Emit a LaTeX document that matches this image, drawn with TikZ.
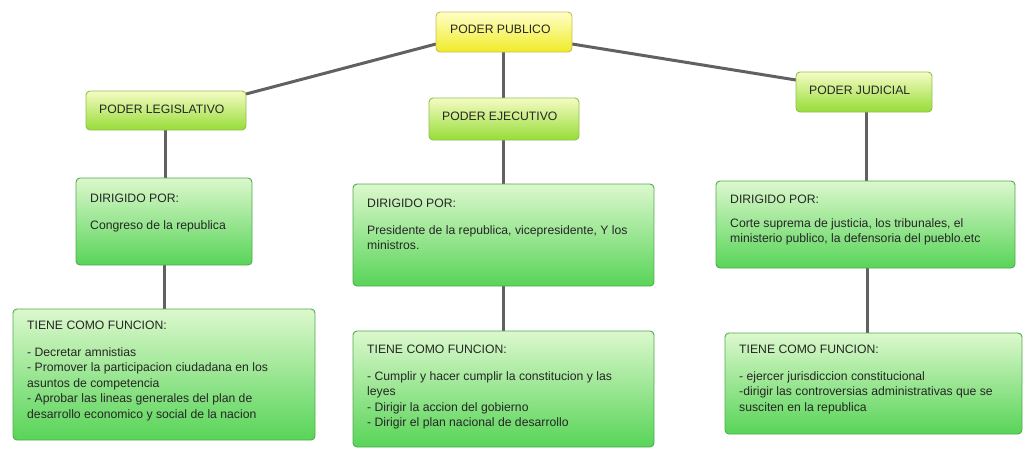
\documentclass[tikz,border=0pt]{standalone}
\usepackage{fontspec}
\setmainfont{Liberation Sans}
\definecolor{gtop}{RGB}{220,248,205}
\definecolor{gbot}{RGB}{88,212,88}
\definecolor{gdraw}{RGB}{80,170,80}
\definecolor{ttop}{RGB}{245,252,195}
\definecolor{tbot}{RGB}{150,220,55}
\definecolor{tdraw}{RGB}{150,190,80}
\definecolor{ptop}{RGB}{255,255,200}
\definecolor{pbot}{RGB}{240,235,40}
\definecolor{pdraw}{RGB}{200,190,80}
\begin{document}
\begin{tikzpicture}[x=1pt,y=-1pt,
 gbox/.style={rectangle,rounded corners=4pt,draw=gdraw,line width=0.9pt,top color=gtop,bottom color=gbot,inner sep=0pt},
 tbox/.style={rectangle,rounded corners=4pt,draw=tdraw,line width=0.9pt,top color=ttop,bottom color=tbot,inner sep=0pt},
 pbox/.style={rectangle,rounded corners=4pt,draw=pdraw,line width=0.9pt,top color=ptop,bottom color=pbot,inner sep=0pt},
 txt/.style={anchor=north west,align=left,inner sep=0pt,font=\fontsize{12.2}{15.5}\selectfont,text=black!85},
 con/.style={draw=black!62,line width=3pt}]
\useasboundingbox (0,0) rectangle (1036,459);
\newcommand{\bx}[6]{\node[#6,minimum width=#4-#2,minimum height=#5-#3] (#1) at ({(#2+#4)/2},{(#3+#5)/2}) {};}
\coordinate (p1) at (436,44); \coordinate (p2) at (572,44);
\coordinate (l1) at (246,94); \coordinate (j1) at (796,80);
\draw[con] (p1) -- (l1);
\draw[con] (p2) -- (j1);
\draw[con] (503,52) -- (503,98);
\draw[con] (165,130) -- (165,178);
\draw[con] (503,140) -- (503,184);
\draw[con] (866,112) -- (866,181);
\draw[con] (164,265) -- (164,309);
\draw[con] (503,286) -- (503,331);
\draw[con] (867,268) -- (867,333);
\bx{pub}{436}{12}{572}{52}{pbox}
\node[txt] (pubt) at (450,25) {PODER PUBLICO};
\bx{leg}{86}{91}{246}{130}{tbox}
\node[txt] (legt) at (99,105) {PODER LEGISLATIVO};
\bx{eje}{429}{98}{579}{140}{tbox}
\node[txt] (ejet) at (442,112) {PODER EJECUTIVO};
\bx{jud}{796}{72}{932}{112}{tbox}
\node[txt] (judt) at (809,86) {PODER JUDICIAL};
\bx{dl}{76}{178}{252}{265}{gbox}
\node[txt] (dlt) at (90,194) {DIRIGIDO POR:\\[11pt]Congreso de la republica};
\bx{de}{353}{184}{654}{286}{gbox}
\node[txt] (det) at (367,199) {DIRIGIDO POR:\\[11pt]Presidente de la republica, vicepresidente, Y los\\ministros.};
\bx{dj}{716}{181}{1015}{268}{gbox}
\node[txt] (djt) at (730,195) {DIRIGIDO POR:\\[8pt]Corte suprema de justicia, los tribunales, el\\ministerio publico, la defensoria del pueblo.etc};
\bx{tl}{13}{309}{315}{440}{gbox}
\node[txt] (tlt) at (27,321) {TIENE COMO FUNCION:\\[11pt]- Decretar amnistias\\- Promover la participacion ciudadana en los\\asuntos de competencia\\- Aprobar las lineas generales del plan de\\desarrollo economico y social de la nacion};
\bx{te}{353}{331}{654}{447}{gbox}
\node[txt] (tet) at (367,345) {TIENE COMO FUNCION:\\[11pt]- Cumplir y hacer cumplir la constitucion y las\\leyes\\- Dirigir la accion del gobierno\\- Dirigir el plan nacional de desarrollo};
\bx{tj}{725}{333}{1022}{434}{gbox}
\node[txt] (tjt) at (739,345) {TIENE COMO FUNCION:\\[11pt]- ejercer jurisdiccion constitucional\\-dirigir las controversias administrativas que se\\susciten en la republica};
\end{tikzpicture}
\end{document}
